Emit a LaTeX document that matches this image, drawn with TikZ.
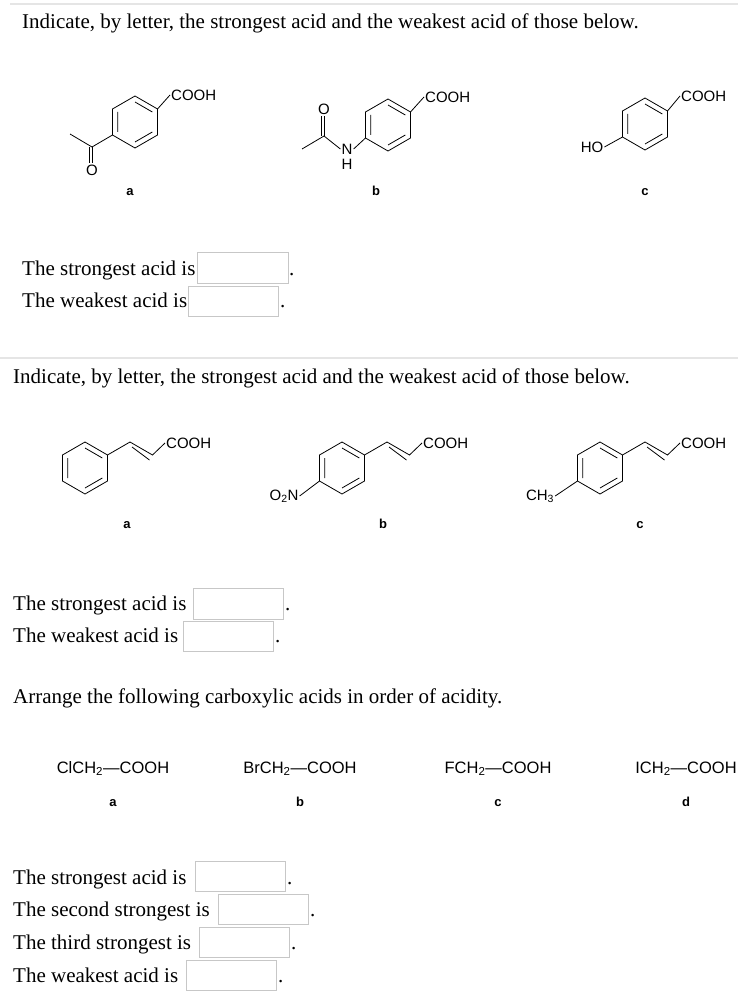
\documentclass[tikz,border=0pt]{standalone}
\usepackage{fontspec}
\usetikzlibrary{calc}
\setmainfont{Liberation Serif}
\setsansfont{Liberation Sans}
\begin{document}
\begin{tikzpicture}[x=1pt,y=-1pt,
  txt/.style={anchor=base west,inner sep=0pt,font=\fontsize{21}{23}\selectfont},
  chem/.style={inner sep=1pt,font=\sffamily\fontsize{15}{16}\selectfont},
  form/.style={inner sep=0pt,anchor=base,font=\sffamily\fontsize{16.5}{18}\selectfont},
  lab/.style={inner sep=0pt,anchor=base,font=\sffamily\bfseries\fontsize{13}{14}\selectfont},
  ans/.style={draw=black!22,line width=0.8pt},
  sep/.style={draw=black!10,line width=2pt},
  bond/.style={line width=0.8pt},
  benz/.pic={
    \draw[bond] (30:26)--(90:26)--(150:26)--(210:26)--(270:26)--(330:26)--cycle;
    \draw[bond] (30:20)--(90:20) (150:20)--(210:20) (270:20)--(330:20);
  }]
\useasboundingbox (0,0) rectangle (738,995);
\fill[white] (0,0) rectangle (738,995);
\draw[sep] (10,4)--(738,4);
\draw[sep] (0,358)--(738,358);
% ---------- Section 1
\node[txt] (t1) at (22,29) {Indicate, by letter, the strongest acid and the weakest acid of those below.};
% a
\pic at (135,122) {benz};
\coordinate (a1r) at (157.5,109); \coordinate (a1l) at (112.5,135);
\node[chem,anchor=west] (a1c) at (170,95) {COOH};
\draw[bond] (a1r)--(a1c.west);
\coordinate (a1k) at (92,147); \coordinate (a1m) at (70,134);
\node[chem] (a1o) at (92,170) {O};
\draw[bond] (a1l)--(a1k)--(a1m);
\draw[bond] (a1k)--(a1o.north); \draw[bond] ([xshift=-3]a1k)--([xshift=-3]a1o.north);
\node[lab] (la1) at (130,195) {a};
% b
\pic at (388,125) {benz};
\coordinate (b1r) at (410.5,112); \coordinate (b1l) at (365.5,138);
\node[chem,anchor=west] (b1c) at (424,97) {COOH};
\draw[bond] (b1r)--(b1c.west);
\node[chem] (b1n) at (347,149) {N};
\node[chem] (b1h) at (347,164) {H};
\coordinate (b1k) at (324,136); \coordinate (b1m) at (302,149);
\node[chem] (b1o) at (324,109) {O};
\draw[bond] (b1l)--(b1n.east); \draw[bond] (b1n.west)--(b1k)--(b1m);
\draw[bond] (b1k)--(b1o.south); \draw[bond] ([xshift=-3]b1k)--([xshift=-3]b1o.south);
\node[lab] (lb1) at (376,195) {b};
% c
\pic at (645,124) {benz};
\coordinate (c1r) at (667.5,111); \coordinate (c1l) at (622.5,137);
\node[chem,anchor=west] (c1c) at (680,96) {COOH};
\draw[bond] (c1r)--(c1c.west);
\node[chem] (c1o) at (592,147) {HO};
\draw[bond] (c1l)--(c1o.east);
\node[lab] (lc1) at (645,195) {c};
% answers
\node[txt] (s1) at (22,275) {The strongest acid is};
\draw[ans] (197,252) rectangle (288,283); \node[txt] (p1) at (289,275) {.};
\node[txt] (w1) at (22,307) {The weakest acid is};
\draw[ans] (188,286) rectangle (278,316); \node[txt] (p2) at (280,307) {.};
% ---------- Section 2
\node[txt] (t2) at (13,383) {Indicate, by letter, the strongest acid and the weakest acid of those below.};
% a
\pic at (85,468) {benz};
\coordinate (a2r) at (107.5,455); \coordinate (a2x) at (130,442); \coordinate (a2y) at (152.5,455);
\node[chem,anchor=west] (a2c) at (165,443) {COOH};
\draw[bond] (a2r)--(a2x)--(a2y)--(a2c.west);
\draw[bond] ($(a2x)+(2,5)$)--($(a2y)+(-3,5)$);
\node[lab] (la2) at (127,528) {a};
% b
\pic at (342,468) {benz};
\coordinate (b2r) at (364.5,455); \coordinate (b2x) at (387,442); \coordinate (b2y) at (409.5,455);
\coordinate (b2l) at (319.5,481);
\node[chem,anchor=west] (b2c) at (422,443) {COOH};
\draw[bond] (b2r)--(b2x)--(b2y)--(b2c.west);
\draw[bond] ($(b2x)+(2,5)$)--($(b2y)+(-3,5)$);
\node[chem] (b2n) at (284,496) {O\textsubscript{2}N};
\draw[bond] (b2l)--(b2n.east);
\node[lab] (lb2) at (383,528) {b};
% c
\pic at (600,468) {benz};
\coordinate (c2r) at (622.5,455); \coordinate (c2x) at (645,442); \coordinate (c2y) at (667.5,455);
\coordinate (c2l) at (577.5,481);
\node[chem,anchor=west] (c2c) at (680,443) {COOH};
\draw[bond] (c2r)--(c2x)--(c2y)--(c2c.west);
\draw[bond] ($(c2x)+(2,5)$)--($(c2y)+(-3,5)$);
\node[chem] (c2m) at (540,496) {CH\textsubscript{3}};
\draw[bond] (c2l)--(c2m.east);
\node[lab] (lc2) at (640,528) {c};
% answers
\node[txt] (s2) at (13,610) {The strongest acid is};
\draw[ans] (193,588) rectangle (283,619); \node[txt] (p3) at (285,610) {.};
\node[txt] (w2) at (13,642) {The weakest acid is};
\draw[ans] (183,621) rectangle (273,651); \node[txt] (p4) at (275,642) {.};
% ---------- Section 3
\node[txt] (t3) at (13,703) {Arrange the following carboxylic acids in order of acidity.};
\node[form] (fa) at (113,773) {ClCH\textsubscript{2}—COOH};
\node[form] (fb) at (300,773) {BrCH\textsubscript{2}—COOH};
\node[form] (fc) at (498,773) {FCH\textsubscript{2}—COOH};
\node[form] (fd) at (686,773) {ICH\textsubscript{2}—COOH};
\node[lab] (la3) at (113,806) {a};
\node[lab] (lb3) at (300,806) {b};
\node[lab] (lc3) at (498,806) {c};
\node[lab] (ld3) at (686,806) {d};
\node[txt] (q1) at (13,884) {The strongest acid is};
\draw[ans] (195,861) rectangle (285,891); \node[txt] (r1) at (287,884) {.};
\node[txt] (q2) at (13,916) {The second strongest is};
\draw[ans] (218,894) rectangle (308,924); \node[txt] (r2) at (310,916) {.};
\node[txt] (q3) at (13,949) {The third strongest is};
\draw[ans] (199,927) rectangle (289,957); \node[txt] (r3) at (291,949) {.};
\node[txt] (q4) at (13,982) {The weakest acid is};
\draw[ans] (186,960) rectangle (276,990); \node[txt] (r4) at (278,982) {.};
\end{tikzpicture}
\end{document}
